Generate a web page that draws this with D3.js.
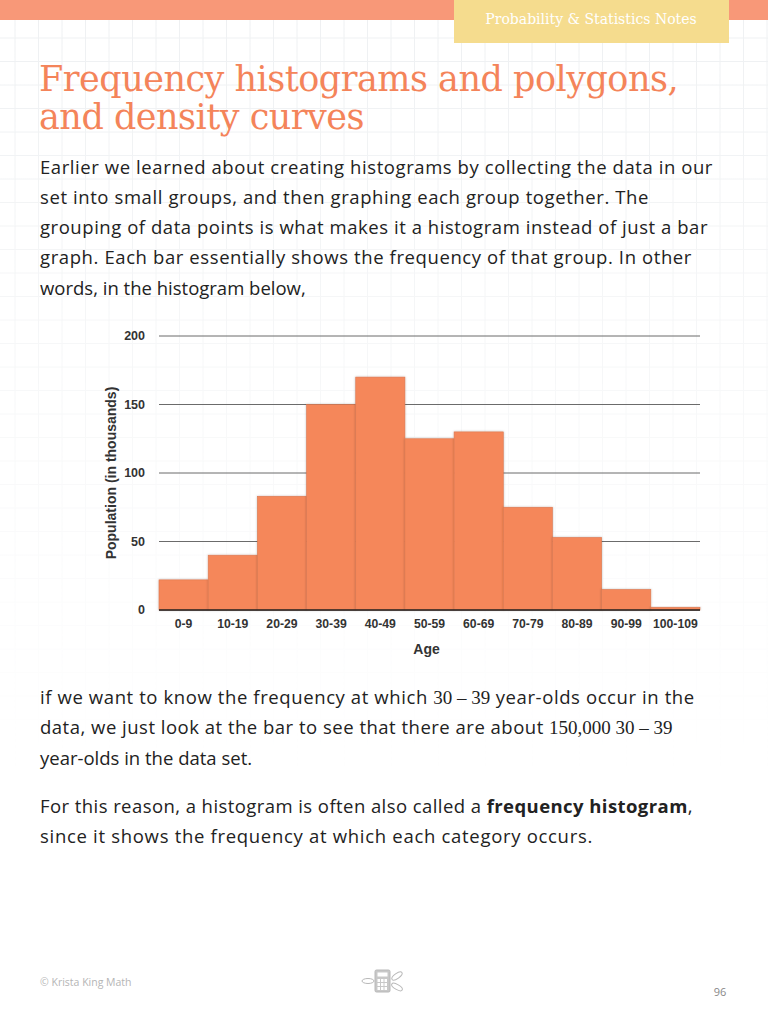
<!DOCTYPE html>
<html>
<head>
<meta charset="utf-8">
<script src="https://cdn.jsdelivr.net/npm/d3@7"></script>
<style>
  html, body { margin: 0; padding: 0; background: #fff; }
  #page { position: relative; width: 768px; height: 1024px; overflow: hidden; }
  .body-line { position: absolute; left: 40px; font-family: "Open Sans", Lato, sans-serif; font-size: 18.5px; line-height: 24px; color: #222; white-space: nowrap; }
  .body-line b { font-weight: 700; }
  .math { font-family: "Liberation Serif", "Times New Roman", serif; font-size: 19px; letter-spacing: 0; }
  .title-line { position: absolute; left: 39px; font-family: "DejaVu Serif", serif; font-size: 35px; color: #F4845A; white-space: nowrap; letter-spacing: -0.5px; }
</style>
</head>
<body>
<div id="page">
  <svg id="bg" width="768" height="1024" style="position:absolute;left:0;top:0"></svg>
  <div class="title-line" style="top:59px">Frequency histograms and polygons,</div>
  <div class="title-line" style="top:97px">and density curves</div>
  <div class="body-line" data-end="713" style="top:155px">Earlier we learned about creating histograms by collecting the data in our</div>
  <div class="body-line" data-end="649" style="top:185px">set into small groups, and then graphing each group together. The</div>
  <div class="body-line" data-end="708" style="top:215px">grouping of data points is what makes it a histogram instead of just a bar</div>
  <div class="body-line" data-end="692" style="top:245px">graph. Each bar essentially shows the frequency of that group. In other</div>
  <div class="body-line" style="top:276px">words, in the histogram below,</div>
  <svg id="chart" width="768" height="680" style="position:absolute;left:0;top:0"></svg>
  <div class="body-line" data-end="699" style="top:685px">if we want to know the frequency at which <span class="math">30 – 39</span> year-olds occur in the</div>
  <div class="body-line" data-end="680" style="top:715px">data, we just look at the bar to see that there are about <span class="math">150,000 30 – 39</span></div>
  <div class="body-line" style="top:746px">year-olds in the data set.</div>
  <div class="body-line" data-end="693" style="top:794px">For this reason, a histogram is often also called a <b>frequency histogram</b>,</div>
  <div class="body-line" data-end="593" style="top:824px">since it shows the frequency at which each category occurs.</div>
</div>
<script>
// data
const ageGroups = ["0-9", "10-19", "20-29", "30-39", "40-49", "50-59", "60-69", "70-79", "80-89", "90-99", "100-109"];
const population = [22, 40, 83, 150, 170, 125, 130, 75, 53, 15, 2];
const yTicks = [0, 50, 100, 150, 200];

// stretch the full body lines to the width they have on the page
d3.selectAll(".body-line").each(function() {
  const el = this;
  if (!el.dataset.end) return;
  const target = +el.dataset.end - 40;
  const chars = el.textContent.length;
  const w = el.getBoundingClientRect().width;
  el.style.letterSpacing = ((target - w) / chars) + "px";
});

// page background: faint grid paper, header strip and tab, footer
const bg = d3.select("#bg");
const defs = bg.append("defs");
const grad = defs.append("linearGradient")
  .attr("id", "fade").attr("x1", 0).attr("y1", 0).attr("x2", 0).attr("y2", 1);
grad.append("stop").attr("offset", "0%").attr("stop-color", "#fff").attr("stop-opacity", 1);
grad.append("stop").attr("offset", "75%").attr("stop-color", "#fff").attr("stop-opacity", 0);
defs.append("mask").attr("id", "gridMask")
  .append("rect").attr("width", 768).attr("height", 1024).attr("fill", "url(#fade)");

const grid = bg.append("g").attr("mask", "url(#gridMask)")
  .attr("stroke", "#eef0f2").attr("stroke-width", 1);
d3.range(15, 768, 23.5).forEach(x => {
  grid.append("line").attr("x1", x).attr("x2", x).attr("y1", 0).attr("y2", 1024);
});
d3.range(38, 1024, 23.5).forEach(y => {
  grid.append("line").attr("x1", 0).attr("x2", 768).attr("y1", y).attr("y2", y);
});

bg.append("rect").attr("x", 0).attr("y", 0).attr("width", 768).attr("height", 20).attr("fill", "#F89878");
bg.append("rect").attr("x", 454).attr("y", 0).attr("width", 275).attr("height", 43).attr("fill", "#F5DC8E");
bg.append("text")
  .attr("x", 591).attr("y", 24)
  .attr("text-anchor", "middle")
  .style("font-family", "'DejaVu Serif', serif")
  .style("font-size", "14px")
  .style("fill", "#ffffff")
  .text("Probability & Statistics Notes");

bg.append("text")
  .attr("x", 40).attr("y", 986)
  .style("font-family", "'Open Sans', sans-serif")
  .style("font-size", "10.5px")
  .style("fill", "#b5b5b5")
  .text("© Krista King Math");
bg.append("text")
  .attr("x", 720).attr("y", 996)
  .attr("text-anchor", "middle")
  .style("font-family", "'Open Sans', sans-serif")
  .style("font-size", "11px")
  .style("fill", "#888")
  .text("96");

// small calculator logo
const logo = bg.append("g").attr("transform", "translate(375,970)").attr("fill", "none").attr("stroke", "#b8b8b8");
logo.append("rect").attr("x", 0).attr("y", 0).attr("width", 15).attr("height", 22).attr("rx", 1.5).attr("fill", "#c8c8c8");
logo.append("rect").attr("x", 2.5).attr("y", 2.5).attr("width", 10).attr("height", 4).attr("fill", "#fff").attr("stroke", "none");
d3.range(3).forEach(r => d3.range(3).forEach(c => {
  logo.append("rect").attr("x", 2.5 + c * 3.5).attr("y", 9 + r * 4).attr("width", 2.5).attr("height", 3)
    .attr("fill", "#fff").attr("stroke", "none");
}));
logo.append("ellipse").attr("cx", -7).attr("cy", 11).attr("rx", 6).attr("ry", 2.5);
logo.append("ellipse").attr("cx", 22).attr("cy", 6).attr("rx", 6).attr("ry", 2.5).attr("transform", "rotate(-35 22 6)");
logo.append("ellipse").attr("cx", 22).attr("cy", 17).attr("rx", 6).attr("ry", 2.5).attr("transform", "rotate(30 22 17)");

// histogram
const svg = d3.select("#chart");
const margin = { left: 159, right: 68, top: 336, bottom: 70 };
const plotW = 768 - margin.left - margin.right;
const plotH = 610 - margin.top;

const x = d3.scaleBand().domain(ageGroups).range([0, plotW]).padding(0);
const y = d3.scaleLinear().domain([0, 200]).range([plotH, 0]);

const g = svg.append("g").attr("transform", `translate(${margin.left},${margin.top})`);

// gridlines
g.selectAll(".grid")
  .data(yTicks)
  .enter()
  .append("line")
  .attr("x1", 0).attr("x2", plotW)
  .attr("y1", d => y(d)).attr("y2", d => y(d))
  .attr("stroke", "#6b6b6b")
  .attr("stroke-width", 1);

// soft shadow for bars
const shadow = svg.append("defs").append("filter").attr("id", "barShadow")
  .attr("x", "-10%").attr("y", "-10%").attr("width", "120%").attr("height", "120%");
shadow.append("feDropShadow").attr("dx", 0).attr("dy", 0).attr("stdDeviation", 1.2)
  .attr("flood-color", "#000").attr("flood-opacity", 0.25);

g.selectAll(".bar")
  .data(population)
  .enter()
  .append("rect")
  .attr("class", "bar")
  .attr("x", (d, i) => x(ageGroups[i]))
  .attr("y", d => y(d))
  .attr("width", x.bandwidth())
  .attr("height", d => plotH - y(d))
  .attr("fill", "#F5875A")
  .attr("stroke", "#DB7850")
  .attr("stroke-width", 0.6)
  .attr("filter", "url(#barShadow)");

// baseline
g.append("line")
  .attr("x1", 0).attr("x2", plotW)
  .attr("y1", plotH).attr("y2", plotH)
  .attr("stroke", "#222").attr("stroke-width", 1.5);

// y tick labels
g.selectAll(".ylab")
  .data(yTicks)
  .enter()
  .append("text")
  .attr("x", -14)
  .attr("y", d => y(d))
  .attr("dy", "0.35em")
  .attr("text-anchor", "end")
  .style("font-family", "'Liberation Sans', Arial, sans-serif")
  .style("font-size", "12.5px")
  .style("font-weight", "bold")
  .style("fill", "#333")
  .text(d => d);

// x tick labels
g.selectAll(".xlab")
  .data(ageGroups)
  .enter()
  .append("text")
  .attr("x", d => x(d) + x.bandwidth() / 2)
  .attr("y", plotH + 18)
  .attr("text-anchor", "middle")
  .style("font-family", "'Liberation Sans', Arial, sans-serif")
  .style("font-size", "12.2px")
  .style("font-weight", "bold")
  .style("fill", "#333")
  .text(d => d);

// axis titles
g.append("text")
  .attr("x", plotW / 2 - 3)
  .attr("y", plotH + 44)
  .attr("text-anchor", "middle")
  .style("font-family", "'Liberation Sans', Arial, sans-serif")
  .style("font-size", "14px")
  .style("font-weight", "bold")
  .style("fill", "#333")
  .text("Age");

g.append("text")
  .attr("transform", `translate(-43,${plotH / 2}) rotate(-90)`)
  .attr("text-anchor", "middle")
  .style("font-family", "'Liberation Sans', Arial, sans-serif")
  .style("font-size", "14px")
  .style("font-weight", "bold")
  .style("fill", "#333")
  .text("Population (in thousands)");
</script>
</body>
</html>
